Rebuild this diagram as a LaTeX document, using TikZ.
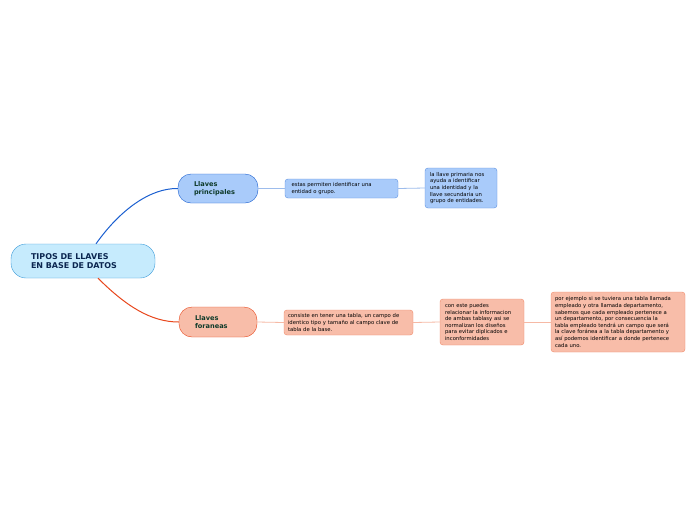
\documentclass[tikz,border=0pt]{standalone}
\usepackage{fontspec}
\setmainfont{DejaVu Sans}
\definecolor{rootf}{HTML}{C6EBFD}\definecolor{rootd}{HTML}{3A9AD9}
\definecolor{bf}{HTML}{A9CBFA}\definecolor{bd}{HTML}{1A5FD0}\definecolor{bl}{HTML}{5B8FE0}
\definecolor{of}{HTML}{F8BDA9}\definecolor{od}{HTML}{E8471D}\definecolor{ol}{HTML}{F08A6A}
\definecolor{navy}{HTML}{0B2650}\definecolor{dgreen}{HTML}{0E3A2A}
\tikzset{x=1pt,y=-1pt,
 box/.style={draw,rounded corners=3pt,inner sep=0pt,align=left,font=\fontsize{5.3}{6.6}\selectfont},
 main/.style={draw,rounded corners=13pt,inner sep=0pt,align=left,font=\bfseries\fontsize{6.6}{8.2}\selectfont,text=dgreen}}
\begin{document}
\begin{tikzpicture}
\useasboundingbox[fill=white] (0,0) rectangle (696,520);
\node[draw=rootd,fill=rootf,rounded corners=15pt,minimum width=144pt,minimum height=34pt,align=left,font=\bfseries\fontsize{8}{9.5}\selectfont,text=navy,text width=104pt] (root) at (83,261) {TIPOS DE LLAVES\\EN BASE DE DATOS};
\node[main,draw=bd,fill=bf,minimum width=80pt,minimum height=29pt,text width=48pt] (lp) at (218,188.5) {Llaves\\principales};
\node[main,draw=od,fill=of,minimum width=78pt,minimum height=30pt,text width=46pt] (lf) at (218,322) {Llaves\\foraneas};
\node[box,draw=bl,fill=bf,minimum width=113pt,minimum height=19pt,text width=100pt] (a1) at (341.5,188.5) {estas permiten identificar una\\entidad o grupo.};
\node[box,draw=bl,fill=bf,minimum width=72pt,minimum height=40pt,text width=62pt] (a2) at (461,188) {la llave primaria nos\\ayuda a identificar\\una identidad y la\\llave secundaria un\\grupo de entidades.};
\node[box,draw=ol,fill=of,minimum width=129pt,minimum height=25pt,text width=121pt] (b1) at (348.5,322.5) {consiste en tener una tabla, un campo de\\identico tipo y tamaño al campo clave de\\tabla de la base.};
\node[box,draw=ol,fill=of,minimum width=84pt,minimum height=46pt,text width=74pt] (b2) at (482,322) {con este puedes\\relacionar la informacion\\de ambas tablasy asi se\\normalizan los diseños\\para evitar diplicados e\\inconformidades};
\node[box,draw=ol,fill=of,minimum width=134pt,minimum height=60pt,text width=126pt] (b3) at (618,322) {por ejemplo si se tuviera una tabla llamada\\empleado y otra llamada departamento,\\sabemos que cada empleado pertenece a\\un departamento, por consecuencia la\\tabla empleado tendrá un campo que será\\la clave foránea a la tabla departamento y\\así podemos identificar a donde pertenece\\cada uno.};
\draw[bd,line width=1pt] (root.north)++(13,0) .. controls (120,210) and (150,188) .. (lp.west);
\draw[od,line width=1pt] (root.south)++(15,0) .. controls (125,305) and (150,322) .. (lf.west);
\draw[bl!60,line width=0.8pt] (lp.east) -- (a1.west);
\draw[bl!60,line width=0.8pt] (a1.east) -- (a2.west);
\draw[ol!60,line width=0.8pt] (lf.east) -- (b1.west);
\draw[ol!60,line width=0.8pt] (b1.east) -- (b2.west);
\draw[ol!60,line width=0.8pt] (b2.east) -- (b3.west);
\end{tikzpicture}
\end{document}
